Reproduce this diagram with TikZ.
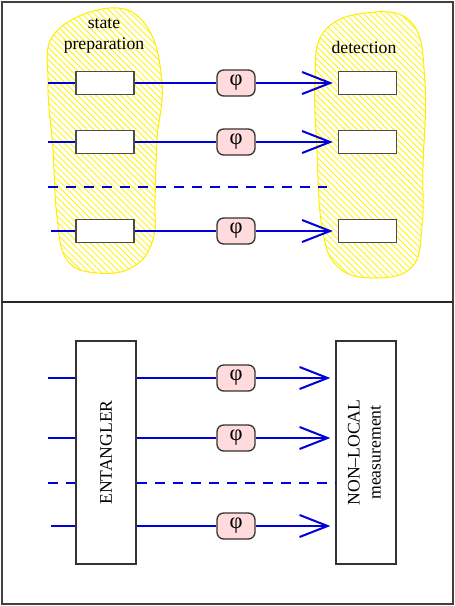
\documentclass[tikz,border=0pt]{standalone}
\usepackage{fontspec}
\setmainfont{Liberation Serif}
\usepackage{tikz}
\usetikzlibrary{arrows.meta,positioning,patterns.meta}

\begin{document}
\begin{tikzpicture}[x=0.6pt, y=-0.6pt,
    font=\fontsize{10.6}{12.6}\selectfont,
    wire/.style={blue!85!black, line width=1.2pt},
    dashwire/.style={wire, dash pattern=on 6pt off 4.8pt},
    arr/.style={wire, shorten >=3pt,
                -{Straight Barb[length=16.8pt, width=13.2pt, line width=1.2pt]}},
    slot/.style={draw=black!70, fill=white, line width=0.8pt, inner sep=0pt,
                 minimum width=34.8pt, minimum height=13.8pt},
    phase/.style={draw=black!80, fill=red!14, line width=0.8pt, inner sep=0pt,
                  rounded corners=4pt, minimum width=22.8pt, minimum height=15.6pt,
                  font=\fontsize{13.5}{13.5}\selectfont},
    tall/.style={draw=black!80, fill=white, line width=0.8pt, inner sep=0pt,
                 minimum width=36pt, minimum height=133.8pt},
    blob/.style={draw=yellow!95!orange, line width=0.6pt, pattern color=yellow!90!orange,
                 pattern={Lines[angle=-45, distance=2.6pt, line width=0.5pt]}},
  ]
  \useasboundingbox (0,0) rectangle (455,606);

  % frame ------------------------------------------------------------
  \draw[black!75, line width=1.3pt] (2,2) rectangle (453,604);
  \draw[black!85, line width=0.8pt] (2,302) -- (453,302);

  % local scheme -----------------------------------------------------
  \draw[blob] plot[smooth cycle, tension=0.7] coordinates
    {(110,8) (147,27) (162,83) (157,140) (155,200) (153,240) (133,267)
     (97,273) (67,260) (57,217) (53,150) (48,83) (55,33)};
  \draw[blob] plot[smooth cycle, tension=0.7] coordinates
    {(365,13) (412,23) (425,83) (423,167) (422,227) (412,267) (375,278)
     (338,267) (322,227) (317,150) (315,83) (323,33)};
  \node[align=center] (prep) at (104,36) {state\\preparation};
  \node (detect) at (364,47) {detection};

  \coordinate (s1) at (48,83);
  \node[slot]  (p1) at (105,83) {};
  \node[phase] (f1) at (236,83) {φ};
  \node[slot]  (d1) at (367.5,83) {};
  \draw[wire] (s1) -- (p1);
  \draw[wire] (p1) -- (f1);
  \draw[arr]  (f1) -- (d1);

  \coordinate (s2) at (48,142);
  \node[slot]  (p2) at (105,142) {};
  \node[phase] (f2) at (236,142) {φ};
  \node[slot]  (d2) at (367.5,142) {};
  \draw[wire] (s2) -- (p2);
  \draw[wire] (p2) -- (f2);
  \draw[arr]  (f2) -- (d2);

  \coordinate (s3) at (48,187);
  \coordinate (e3) at (327,187);
  \draw[dashwire] (s3) -- (e3);

  \coordinate (s4) at (51,231);
  \node[slot]  (p4) at (105,231) {};
  \node[phase] (f4) at (236,231) {φ};
  \node[slot]  (d4) at (367.5,231) {};
  \draw[wire] (s4) -- (p4);
  \draw[wire] (p4) -- (f4);
  \draw[arr]  (f4) -- (d4);

  % entangled scheme -------------------------------------------------
  \node[tall] (ent) at (106,452.5) {\rotatebox{90}{ENTANGLER}};
  \node[tall] (meas) at (366,452.5)
    {\rotatebox{90}{\begin{tabular}{@{}c@{}}NON--LOCAL\\measurement\end{tabular}}};

  \coordinate (t1) at (48,378);
  \node[phase] (g1) at (236,378) {φ};
  \draw[wire] (t1) -- (t1 -| ent.west);
  \draw[wire] (t1 -| ent.east) -- (g1);
  \draw[arr]  (g1) -- (g1 -| meas.west);

  \coordinate (t2) at (48,438);
  \node[phase] (g2) at (236,438) {φ};
  \draw[wire] (t2) -- (t2 -| ent.west);
  \draw[wire] (t2 -| ent.east) -- (g2);
  \draw[arr]  (g2) -- (g2 -| meas.west);

  \coordinate (t3) at (48,483);
  \draw[dashwire] (t3) -- (t3 -| ent.west);
  \draw[dashwire] (t3 -| ent.east) -- (t3 -| meas.west);

  \coordinate (t4) at (51,526);
  \node[phase] (g4) at (236,526) {φ};
  \draw[wire] (t4) -- (t4 -| ent.west);
  \draw[wire] (t4 -| ent.east) -- (g4);
  \draw[arr]  (g4) -- (g4 -| meas.west);
\end{tikzpicture}
\end{document}
